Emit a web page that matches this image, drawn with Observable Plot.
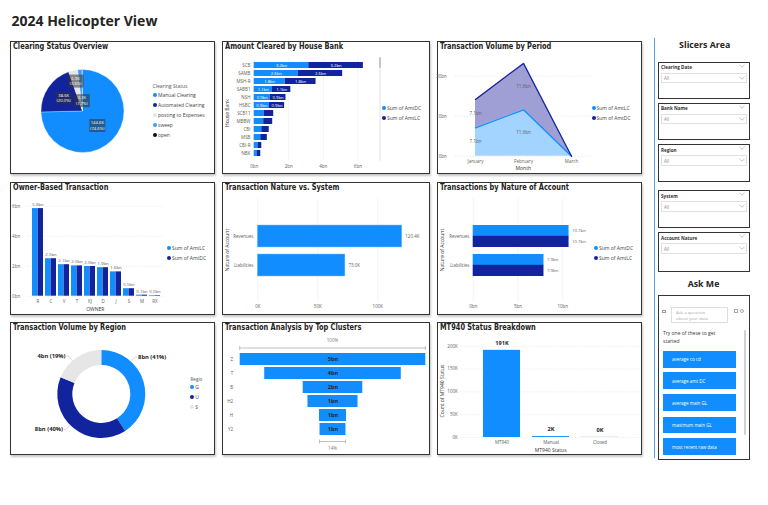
<!DOCTYPE html>
<html><head><meta charset="utf-8">
<script src="https://cdn.jsdelivr.net/npm/d3@7"></script>
<script src="https://cdn.jsdelivr.net/npm/@observablehq/plot@0.6"></script>
<style>
html,body{margin:0;padding:0;background:#fff;}
#root{position:relative;width:768px;height:505px;overflow:hidden;background:#fff;font-family:"Open Sans",sans-serif;}
.frame{position:absolute;left:0;top:0;right:0;bottom:0;box-sizing:border-box;border:1.5px solid #333;background:#fff;box-shadow:1px 1.5px 2px rgba(0,0,0,0.22);}
.t{position:absolute;white-space:nowrap;line-height:1;}
.ptitle{position:absolute;white-space:nowrap;font-family:"DejaVu Sans Condensed",sans-serif;font-weight:bold;font-size:9px;color:#252423;line-height:1;transform:scaleX(0.82);transform-origin:0 0;}
.box{position:absolute;box-sizing:border-box;}
</style></head>
<body><div id="root"></div>
<script>
// ---------------- data ----------------
const clearingStatus = ["Manual Clearing","Automated Clearing","posting to Expenses","sweep","open"];
const clearingCount = [144560, 38640, 6900, 3300, 270];
const banks = ["SCB","SAMB","MSH-R","SABB1","NSH","HSBC","SCB11","MBBW","CBI","MSB","CBI-R","NBK"];
const bankAmtDC = [3.16,2.56,1.79,1.06,0.92,0.88,0.58,0.55,0.44,0.38,0.22,0.19];
const bankAmtLC = [3.16,2.56,1.79,1.06,0.92,0.88,0.55,0.52,0.43,0.38,0.22,0.19];
const months = ["January","February","March"];
const periodAmtLC = [7.1,11.6,0];
const periodAmtDC = [7.1,11.6,0];
const owners = ["R","C","V","T","KJ","D","J","S","M","RX"];
const ownerAmtLC = [5.84,2.5,2.1,2.02,1.98,1.9,1.62,0.5,0.07,0.04];
const ownerAmtDC = [5.84,2.5,2.1,2.02,1.98,1.9,1.62,0.5,0.07,0.04];
const natures = ["Revenues","Liabilities"];
const natureCountK = [120.4, 73.0];
const natureAmtDC = [10.7, 7.9];
const natureAmtLC = [10.7, 7.9];
const regions = ["G","U","S"];
const regionAmt = [7.6, 7.5, 3.5];
const clusters = ["Z","T","B","H2","H","Y2"];
const clusterAmt = [5.3, 3.9, 1.7, 1.43, 0.77, 0.74];
const mtStatus = ["MT940","Manual","Closed"];
const mtCountK = [191, 2, 0.3];
const slicerFields = ["Clearing Date","Bank Name","Region","System","Account Nature"];
const askSuggestions = ["average co cd","average amt DC","average main GL","maximum main GL","most recent raw data"];

// ---------------- helpers ----------------
const C_LIGHT = "#118DFF", C_DARK = "#12239E", C_GRAY = "#E6E6E6";
const root = document.getElementById("root");
function txt(parent, x, y, s, o = {}) {
  const d = document.createElement("div");
  d.className = "t";
  d.textContent = s;
  const ax = o.anchor === "middle" ? "-50%" : o.anchor === "end" ? "-100%" : "0";
  d.style.left = x + "px"; d.style.top = y + "px";
  d.style.fontSize = (o.size || 5) + "px";
  d.style.color = o.color || "#605E5C";
  d.style.fontWeight = o.weight || "normal";
  if (o.font) d.style.fontFamily = o.font;
  d.style.transform = `translate(${ax},-50%)` + (o.rotate ? ` rotate(${o.rotate}deg)` : "");
  parent.appendChild(d);
  return d;
}
function box(parent, x, y, w, h, css) {
  const d = document.createElement("div");
  d.className = "box";
  d.style.cssText += `left:${x}px;top:${y}px;width:${w}px;height:${h}px;` + (css || "");
  parent.appendChild(d);
  return d;
}
function legend(parent, x, y, items, colors, step) {
  items.forEach((s, i) => {
    box(parent, x - 2, y + i * step - 2, 4, 4, `border-radius:50%;background:${colors[i]};`);
    txt(parent, x + 3, y + i * step, s, {size: 5, color: "#444"});
  });
}
function panel(x, y, w, h, title) {
  const c = document.createElement("div");
  c.style.cssText = `position:absolute;left:${x}px;top:${y}px;width:${w}px;height:${h}px;`;
  const f = document.createElement("div"); f.className = "frame"; c.appendChild(f);
  root.appendChild(c);
  if (title) {
    const t = document.createElement("div"); t.className = "ptitle"; t.textContent = title;
    t.style.left = "2.5px"; t.style.top = "0.6px"; c.appendChild(t);
  }
  return c;
}
function addPlot(c, opts) {
  const svg = Plot.plot({...opts, style: {fontFamily: '"Open Sans",sans-serif', fontSize: "4.5px", color: "#605E5C", background: "none", overflow: "visible", maxWidth: "none"}});
  svg.style.position = "absolute"; svg.style.left = "0"; svg.style.top = "0";
  c.appendChild(svg);
  return svg;
}
const ident = v => v;

// ---------------- main title ----------------
txt(root, 11.5, 21.3, "2024 Helicopter View", {size: 14, weight: "bold", color: "#252423"});

// ---------------- P1: Clearing Status Overview (pie) ----------------
{
  const W = 205, H = 133;
  const c = panel(10, 41, W, H, "Clearing Status Overview");
  const colors = [C_LIGHT, C_DARK, C_GRAY, "#3DA0F5", "#111111"];
  const data = clearingStatus.map((s, i) => ({status: s, count: clearingCount[i]}));
  const total = d3.sum(clearingCount);
  const arcs = d3.pie().sort(null).value(d => d.count)(data);
  const labelR = [0.5, 0.55, 0.74, 0.25, null];
  addPlot(c, {
    width: W, height: H, margin: 0,
    x: {domain: [0, W], range: [0, W], axis: null},
    y: {domain: [0, H], range: [0, H], axis: null},
    marks: [(index, scales) => {
      const sx = scales.x || ident, sy = scales.y || ident;
      const cx = sx(72.5), cy = sy(70), R = sx(41.5) - sx(0);
      const g = d3.create("svg:g").attr("transform", `translate(${cx},${cy})`);
      const arc = d3.arc().innerRadius(0).outerRadius(R);
      g.selectAll("path").data(arcs).join("path").attr("d", arc)
        .attr("fill", (d, i) => colors[i]).attr("stroke", "#fff").attr("stroke-width", 0.3);
      arcs.forEach((a, i) => {
        if (labelR[i] == null) return;
        const m = (a.startAngle + a.endAngle) / 2, r = R * labelR[i];
        const lg = g.append("g").attr("transform", `translate(${r * Math.sin(m)},${-r * Math.cos(m)})`);
        lg.append("rect").attr("x", -8).attr("y", -6.5).attr("width", 16).attr("height", 13)
          .attr("fill", "#333").attr("fill-opacity", 0.55);
        lg.append("text").attr("y", -1.2).attr("text-anchor", "middle").attr("fill", "#fff").attr("font-size", 4.2)
          .text((a.data.count / 1000).toFixed(1) + "K");
        lg.append("text").attr("y", 4).attr("text-anchor", "middle").attr("fill", "#fff").attr("font-size", 4.2)
          .text(`(${(a.data.count / total * 100).toFixed(1)}%)`);
      });
      return g.node();
    }]
  });
  txt(c, 142.5, 45, "Clearing Status", {size: 5, color: "#555"});
  legend(c, 145, 54, clearingStatus, colors, 10);
}

// ---------------- P2: Amount Cleared by House Bank ----------------
{
  const W = 208, H = 133;
  const c = panel(222, 41, W, H, "Amount Cleared by House Bank");
  const rows = banks.flatMap((b, i) => [
    {bank: b, series: "DC", v: bankAmtDC[i], x: bankAmtDC[i] / 2, rank: i},
    {bank: b, series: "LC", v: bankAmtLC[i], x: bankAmtDC[i] + bankAmtLC[i] / 2, rank: i}
  ]);
  addPlot(c, {
    width: W, height: H, marginLeft: 31.7, marginRight: 64, marginTop: 16.5, marginBottom: 13.3,
    x: {domain: [0, 6.5], ticks: [0, 2, 4, 6], tickFormat: d => d + "bn", tickSize: 0, tickPadding: 4, label: null},
    y: {domain: banks, padding: 0.3, tickSize: 0, tickPadding: 3.7, label: null},
    color: {type: "identity"},
    marks: [
      Plot.ruleX([0, 2, 4, 6], {stroke: "#ececec", strokeWidth: 0.6}),
      Plot.barX(rows, {x: "v", y: "bank", fill: d => d.series === "DC" ? C_LIGHT : C_DARK}),
      Plot.text(rows.filter(d => d.rank < 6), {x: "x", y: "bank", text: d => d.v.toFixed(1) + "bn", fill: "#fff", fontSize: 4.2})
    ]
  });
  txt(c, 4.5, 72, "House Bank", {size: 5, color: "#333", anchor: "middle", rotate: -90});
  box(c, 156.5, 16, 2.6, 104, "background:#f0f0f0;border-radius:1px;");
  box(c, 156.5, 16, 2.6, 11, "background:#c6c6c6;border-radius:1px;");
  legend(c, 162, 67, ["Sum of AmtDC", "Sum of AmtLC"], [C_LIGHT, C_DARK], 10);
}

// ---------------- P3: Transaction Volume by Period ----------------
{
  const W = 205, H = 133;
  const c = panel(437, 41, W, H, "Transaction Volume by Period");
  const fills = {LC: "#A3D3FF", DC: "#A09FD5"}, strokes = {LC: C_LIGHT, DC: C_DARK};
  const rows = months.flatMap((m, i) => [
    {month: m, series: "LC", v: periodAmtLC[i]},
    {month: m, series: "DC", v: periodAmtDC[i]}
  ]);
  addPlot(c, {
    width: W, height: H, marginLeft: 17.5, marginRight: 50.8, marginTop: 14.7, marginBottom: 18.3,
    x: {type: "point", domain: months, padding: 0.4, tickSize: 0, tickPadding: 4, label: null},
    y: {domain: [0, 25], ticks: [0, 10, 20], tickFormat: d => d + "bn", tickSize: 0, tickPadding: 8.2, label: null},
    color: {type: "identity"},
    marks: [
      Plot.ruleY([0, 10, 20], {stroke: "#e2e2e2", strokeWidth: 0.6, strokeDasharray: "1.5,1.5"}),
      Plot.areaY(rows, Plot.stackY({x: "month", y: "v", z: "series", fill: d => fills[d.series]})),
      Plot.lineY(rows, Plot.stackY2({x: "month", y: "v", z: "series", stroke: d => strokes[d.series], strokeWidth: 1.3})),
      Plot.text(rows.filter(d => d.v > 0), Plot.stackY({x: "month", y: "v", z: "series", text: d => d.v.toFixed(1) + "bn", fill: "#605E5C", fontSize: 4.5}))
    ]
  });
  txt(c, 86.3, 127, "Month", {size: 5, color: "#333", anchor: "middle"});
  legend(c, 156.5, 66.7, ["Sum of AmtLC", "Sum of AmtDC"], [C_LIGHT, C_DARK], 10.3);
}

// ---------------- P4: Owner-Based Transaction ----------------
{
  const W = 205, H = 133;
  const c = panel(10, 182, W, H, "Owner-Based Transaction");
  const mL = 16.7, mR = 50.7, pad = 0.18;
  const step = (W - mL - mR) / (owners.length - pad + 2 * pad), bw = step * (1 - pad);
  const rowsLC = owners.map((o, i) => ({owner: o, v: ownerAmtLC[i]}));
  const rowsDC = owners.map((o, i) => ({owner: o, v: ownerAmtDC[i]}));
  const tops = owners.map((o, i) => ({owner: o, v: Math.max(ownerAmtLC[i], ownerAmtDC[i])}));
  addPlot(c, {
    width: W, height: H, marginLeft: mL, marginRight: mR, marginTop: 16.2, marginBottom: 19.3,
    x: {domain: owners, padding: pad, tickSize: 0, tickPadding: 4, label: null},
    y: {domain: [0, 6.5], ticks: [0, 2, 4, 6], tickFormat: d => d + "bn", tickSize: 0, tickPadding: 7, label: null},
    marks: [
      Plot.ruleY([0, 2, 4, 6], {stroke: "#e2e2e2", strokeWidth: 0.6, strokeDasharray: "1.5,1.5"}),
      Plot.barY(rowsLC, {x: "owner", y: "v", fill: C_LIGHT, insetRight: bw / 2}),
      Plot.barY(rowsDC, {x: "owner", y: "v", fill: C_DARK, insetLeft: bw / 2}),
      Plot.text(tops, {x: "owner", y: "v", text: d => d.v.toFixed(1) + "bn", dy: -4, fill: "#605E5C", fontSize: 4.3})
    ]
  });
  txt(c, 85.3, 126.7, "OWNER", {size: 5, color: "#333", anchor: "middle"});
  legend(c, 159, 66, ["Sum of AmtLC", "Sum of AmtDC"], [C_LIGHT, C_DARK], 10);
}

// ---------------- P5: Transaction Nature vs. System ----------------
{
  const W = 208, H = 133;
  const c = panel(222, 182, W, H, "Transaction Nature vs. System");
  const rows = natures.map((n, i) => ({nature: n, v: natureCountK[i]}));
  addPlot(c, {
    width: W, height: H, marginLeft: 35.3, marginRight: 16.7, marginTop: 16, marginBottom: 13,
    x: {domain: [0, 130], ticks: [0, 50, 100], tickFormat: d => d + "K", tickSize: 0, tickPadding: 2.7, label: null},
    y: {domain: natures, paddingInner: 0.255, paddingOuter: 0.92, tickSize: 0, tickPadding: 4.3, label: null},
    marks: [
      Plot.ruleX([0, 50, 100], {stroke: "#ececec", strokeWidth: 0.6}),
      Plot.barX(rows, {x: "v", y: "nature", fill: C_LIGHT, stroke: "#7cc0ff", strokeWidth: 0.5}),
      Plot.text(rows, {x: "v", y: "nature", text: d => d.v.toFixed(1) + "K", dx: 3, textAnchor: "start", fill: "#605E5C", fontSize: 4.5})
    ]
  });
  txt(c, 5, 67.7, "Nature of Account", {size: 5, color: "#333", anchor: "middle", rotate: -90});
}

// ---------------- P6: Transactions by Nature of Account ----------------
{
  const W = 205, H = 133;
  const c = panel(437, 182, W, H, "Transactions by Nature of Account");
  const frameH = H - 16 - 13, pi = 0.255, po = 0.92;
  const bw = frameH / (natures.length - pi + 2 * po) * (1 - pi);
  const rowsDC = natures.map((n, i) => ({nature: n, v: natureAmtDC[i]}));
  const rowsLC = natures.map((n, i) => ({nature: n, v: natureAmtLC[i]}));
  addPlot(c, {
    width: W, height: H, marginLeft: 35.7, marginRight: 61.8, marginTop: 16, marginBottom: 13,
    x: {domain: [0, 12], ticks: [0, 5, 10], tickFormat: d => d + "bn", tickSize: 0, tickPadding: 2.7, label: null},
    y: {domain: natures, paddingInner: pi, paddingOuter: po, tickSize: 0, tickPadding: 3.7, label: null},
    marks: [
      Plot.ruleX([0, 5, 10], {stroke: "#ececec", strokeWidth: 0.6}),
      Plot.barX(rowsDC, {x: "v", y: "nature", fill: C_LIGHT, insetBottom: bw / 2}),
      Plot.barX(rowsLC, {x: "v", y: "nature", fill: C_DARK, insetTop: bw / 2}),
      Plot.text(rowsDC, {x: "v", y: "nature", dy: -bw / 4, dx: 3, text: d => d.v.toFixed(1) + "bn", textAnchor: "start", fill: "#605E5C", fontSize: 4.3}),
      Plot.text(rowsLC, {x: "v", y: "nature", dy: bw / 4, dx: 3, text: d => d.v.toFixed(1) + "bn", textAnchor: "start", fill: "#605E5C", fontSize: 4.3})
    ]
  });
  txt(c, 5, 67.7, "Nature of Account", {size: 5, color: "#333", anchor: "middle", rotate: -90});
  legend(c, 159, 66, ["Sum of AmtDC", "Sum of AmtLC"], [C_LIGHT, C_DARK], 10);
}

// ---------------- P7: Transaction Volume by Region (donut) ----------------
{
  const W = 205, H = 133;
  const c = panel(10, 322, W, H, "Transaction Volume by Region");
  const colors = [C_LIGHT, C_DARK, C_GRAY];
  const data = regions.map((r, i) => ({region: r, v: regionAmt[i]}));
  const total = d3.sum(regionAmt);
  const arcs = d3.pie().sort(null).value(d => d.v)(data);
  const labelAngle = [42.5, 225, 319];
  addPlot(c, {
    width: W, height: H, margin: 0,
    x: {domain: [0, W], range: [0, W], axis: null},
    y: {domain: [0, H], range: [0, H], axis: null},
    marks: [(index, scales) => {
      const sx = scales.x || ident, sy = scales.y || ident;
      const cx = sx(91.3), cy = sy(72), R = sx(44) - sx(0), R0 = sx(29) - sx(0);
      const g = d3.create("svg:g").attr("transform", `translate(${cx},${cy})`);
      const arc = d3.arc().innerRadius(R0).outerRadius(R);
      g.selectAll("path").data(arcs).join("path").attr("d", arc).attr("fill", (d, i) => colors[i]);
      arcs.forEach((a, i) => {
        const t = labelAngle[i] * Math.PI / 180, s = Math.sin(t), k = -Math.cos(t);
        const p0 = [R * s, R * k], p1 = [(R + 6) * s, (R + 6) * k];
        const right = s > 0, p2 = [p1[0] + (right ? 2 : -2), p1[1]];
        g.append("polyline").attr("points", [p0, p1, p2].map(p => p.join(",")).join(" "))
          .attr("fill", "none").attr("stroke", "#aaa").attr("stroke-width", 0.5);
        g.append("text").attr("x", p2[0] + (right ? 1 : -1)).attr("y", p2[1]).attr("dy", "0.35em")
          .attr("text-anchor", right ? "start" : "end").attr("font-size", 5.8).attr("font-weight", "bold").attr("fill", "#252423")
          .text(`${Math.round(a.data.v)}bn (${Math.round(a.data.v / total * 100)}%)`);
      });
      return g.node();
    }]
  });
  txt(c, 180.5, 57, "Regio", {size: 4.6, color: "#555"});
  legend(c, 182.3, 65.3, regions, colors, 10);
}

// ---------------- P8: Transaction Analysis by Top Clusters (funnel) ----------------
{
  const W = 208, H = 133;
  const c = panel(222, 322, W, H, "Transaction Analysis by Top Clusters");
  const rows = clusters.map((k, i) => ({cluster: k, v: clusterAmt[i]}));
  const mx = d3.max(clusterAmt);
  const first = rows[0], last = rows[rows.length - 1];
  addPlot(c, {
    width: W, height: H, marginLeft: 17.7, marginRight: 4.7, marginTop: 29.5, marginBottom: 17.5,
    x: {domain: [-mx / 2, mx / 2], axis: null},
    y: {domain: clusters, padding: 0.12, tickSize: 0, tickPadding: 7, label: null},
    marks: [
      Plot.barX(rows, {x1: d => -d.v / 2, x2: d => d.v / 2, y: "cluster", fill: C_LIGHT}),
      Plot.text(rows, {x: 0, y: "cluster", text: d => Math.round(d.v) + "bn", fontWeight: "bold", fill: "#252423", fontSize: 5.6}),
      (index, scales) => {
        const sx = scales.x, sy = scales.y;
        const bwf = typeof sy.bandwidth === "function" ? sy.bandwidth() : (sy.bandwidth || 0);
        const g = d3.create("svg:g").attr("stroke", "#999").attr("stroke-width", 0.6);
        const bracket = (v, y, label, ty) => {
          const a = sx(-v / 2), b = sx(v / 2);
          g.append("line").attr("x1", a).attr("x2", b).attr("y1", y).attr("y2", y);
          g.append("line").attr("x1", a).attr("x2", a).attr("y1", y - 2).attr("y2", y + 2);
          g.append("line").attr("x1", b).attr("x2", b).attr("y1", y - 2).attr("y2", y + 2);
          g.append("text").attr("x", (a + b) / 2).attr("y", ty).attr("dy", "0.35em").attr("text-anchor", "middle")
            .attr("stroke", "none").attr("fill", "#777").attr("font-size", 4.5).text(label);
        };
        const yTop = sy(first.cluster) - 5, yBot = sy(last.cluster) + bwf + 6.5;
        bracket(first.v, yTop, "100%", yTop - 7.3);
        bracket(last.v, yBot, Math.round(last.v / first.v * 100) + "%", yBot + 6.7);
        return g.node();
      }
    ]
  });
}

// ---------------- P9: MT940 Status Breakdown ----------------
{
  const W = 205, H = 133;
  const c = panel(437, 322, W, H, "MT940 Status Breakdown");
  const rows = mtStatus.map((s, i) => ({status: s, v: mtCountK[i]}));
  addPlot(c, {
    width: W, height: H, marginLeft: 23.7, marginRight: 1.3, marginTop: 14.6, marginBottom: 18,
    x: {domain: mtStatus, paddingInner: 0.247, paddingOuter: 0.45, tickSize: 0, tickPadding: 3.4, label: null},
    y: {domain: [0, 220], ticks: [0, 50, 100, 150, 200], tickFormat: d => d + "K", tickSize: 0, tickPadding: 3.4, label: null},
    marks: [
      Plot.ruleY([0, 50, 100, 150, 200], {stroke: "#e2e2e2", strokeWidth: 0.6, strokeDasharray: "1.5,1.5"}),
      Plot.barY(rows, {x: "status", y: "v", fill: C_LIGHT}),
      Plot.text(rows, {x: "status", y: "v", text: d => Math.round(d.v) + "K", dy: -7, fontWeight: "bold", fill: "#252423", fontSize: 5.6})
    ]
  });
  txt(c, 113.7, 127.7, "MT940 Status", {size: 5, color: "#333", anchor: "middle"});
  txt(c, 5.3, 69, "Count of MT940 Status", {size: 5, color: "#333", anchor: "middle", rotate: -90});
}

// ---------------- Slicers area ----------------
box(root, 653.5, 38, 1.4, 420, "background:#4f9fe6;");
txt(root, 704.7, 45, "Slicers Area", {size: 8.8, weight: "bold", color: "#252423", anchor: "middle"});
const slicerTops = [61.7, 102.7, 144, 190, 232];
const slicerHeights = [37.5, 37.5, 37.5, 37.5, 39.7];
function chevron(parent, x, y) {
  const s = document.createElementNS("http://www.w3.org/2000/svg", "svg");
  s.setAttribute("width", 6); s.setAttribute("height", 4);
  s.style.cssText = `position:absolute;left:${x - 3}px;top:${y - 2}px;overflow:visible`;
  s.innerHTML = '<polyline points="0.5,0.8 3,3.2 5.5,0.8" fill="none" stroke="#999" stroke-width="0.6"/>';
  parent.appendChild(s);
}
slicerFields.forEach((f, i) => {
  const t = slicerTops[i];
  box(root, 658, t, 92, slicerHeights[i], "border:1.3px solid #333;background:#fff;");
  txt(root, 661, t + 5.6, f, {size: 4.6, weight: "bold", color: "#333"});
  chevron(root, 741.5, t + 4.2);
  box(root, 661, t + 11, 85.5, 10.6, "border:0.6px solid #e0e0e0;background:#fff;");
  txt(root, 664, t + 16.5, "All", {size: 4.5, color: "#888"});
  chevron(root, 741.5, t + 16.3);
});

// ---------------- Ask Me (Q&A) ----------------
txt(root, 703.5, 284.3, "Ask Me", {size: 8.8, weight: "bold", color: "#252423", anchor: "middle"});
box(root, 658, 295, 92, 165, "border:1.3px solid #333;background:#fff;");
box(root, 661.5, 309.5, 4, 3, "border:0.5px solid #999;border-radius:0.5px;");
box(root, 670.7, 306.7, 57.3, 16.6, "border:0.6px solid #ddd;background:#fff;");
txt(root, 676, 311.8, "Ask a question", {size: 4.3, color: "#aaa"});
txt(root, 676, 317.6, "about your data", {size: 4.3, color: "#aaa"});
box(root, 733.5, 309.3, 4, 3.4, "border:0.5px solid #aaa;");
box(root, 740, 308.8, 4.4, 4.4, "border:0.6px solid #aaa;border-radius:50%;");
txt(root, 663, 333.3, "Try one of these to get", {size: 5, color: "#333"});
txt(root, 663, 341, "started", {size: 5, color: "#333"});
box(root, 743.5, 330, 2.6, 105, "background:#d0d0d0;border-radius:1.3px;");
const btnTops = [351, 372.3, 394.3, 416.7, 438.3];
askSuggestions.forEach((s, i) => {
  box(root, 663, btnTops[i], 73, 16.6, `background:${C_LIGHT};`);
  txt(root, 672, btnTops[i] + 8.3, s, {size: 4.5, color: "#fff"});
});
</script>
</body></html>
